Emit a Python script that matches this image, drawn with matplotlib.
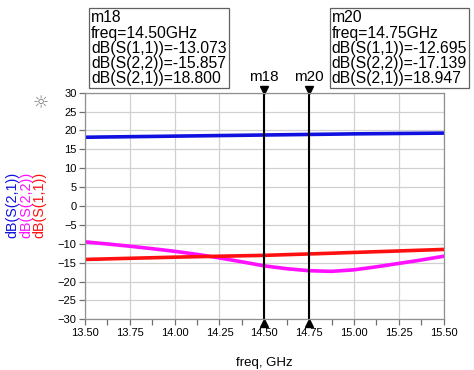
import numpy as np
import matplotlib
matplotlib.use('Agg')
import matplotlib.pyplot as plt

plt.rcParams['font.family'] = ['Liberation Sans', 'DejaVu Sans']

freq = [13.500, 13.625, 13.750, 13.875, 14.000, 14.125, 14.250, 14.375, 14.500,
        14.625, 14.750, 14.875, 15.000, 15.125, 15.250, 15.375, 15.500]
s21 = [18.20, 18.28, 18.35, 18.42, 18.50, 18.57, 18.65, 18.72, 18.800,
       18.87, 18.947, 19.02, 19.10, 19.15, 19.20, 19.25, 19.30]
s22 = [-9.50, -10.05, -10.65, -11.30, -12.00, -12.80, -13.75, -14.78, -15.857,
       -16.60, -17.139, -17.30, -16.90, -16.10, -15.20, -14.30, -13.30]
s11 = [-14.15, -14.00, -13.85, -13.70, -13.55, -13.42, -13.30, -13.18, -13.073,
       -12.88, -12.695, -12.50, -12.30, -12.10, -11.90, -11.70, -11.50]

markers = ['m18', 'm20']
marker_freq = [14.50, 14.75]
marker_text = [
    ['m18', 'freq=14.50GHz', 'dB(S(1,1))=-13.073', 'dB(S(2,2))=-15.857', 'dB(S(2,1))=18.800'],
    ['m20', 'freq=14.75GHz', 'dB(S(1,1))=-12.695', 'dB(S(2,2))=-17.139', 'dB(S(2,1))=18.947'],
]

blue = '#1010e0'
pink = '#ff10ff'
red = '#ff1010'

fig = plt.figure(figsize=(4.74, 3.70), dpi=100)
ax = fig.add_axes([0.1793, 0.137, 0.7567, 0.6125])

ax.plot(freq, s21, color=blue, lw=2.6)
ax.plot(freq, s22, color=pink, lw=2.6)
ax.plot(freq, s11, color=red, lw=2.6)

ax.set_xlim(13.5, 15.5)
ax.set_ylim(-30, 30)
ax.set_xticks(np.arange(13.5, 15.51, 0.25))
ax.set_xticklabels(['%.2f' % v for v in np.arange(13.5, 15.51, 0.25)])
ax.set_xticks(np.arange(13.625, 15.5, 0.25), minor=True)
ax.set_yticks(np.arange(-30, 31, 5))
ax.grid(True, color='#d0d0d0', lw=0.9)
ax.tick_params(axis='both', labelsize=8, color='#707070', length=4, width=0.9, pad=2)
ax.tick_params(axis='x', which='minor', color='#707070', length=4, width=0.9)
for s in ax.spines.values():
    s.set_color('#909090')
    s.set_linewidth(0.9)

# marker lines, triangles sit just outside the plot frame
for name, f in zip(markers, marker_freq):
    ax.axvline(f, color='black', lw=1.5)
    ax.plot([f], [30.8], marker='v', color='black', ms=5.5, clip_on=False)
    ax.plot([f], [-30.9], marker='^', color='black', ms=5.5, clip_on=False)
    ax.text(f, 32.2, name, ha='center', va='bottom', fontsize=11)

# marker readout boxes
for txt, x0 in zip(marker_text, [0.192, 0.700]):
    fig.text(x0, 0.972, '\n'.join(txt), ha='left', va='top', fontsize=11.3,
             linespacing=1.02,
             bbox=dict(boxstyle='square,pad=0.12', fc='white', ec='#606060', lw=0.9))

# stacked y labels
fig.text(0.027, 0.445, 'dB(S(2,1))', rotation=90, color=blue, fontsize=10.3, ha='center', va='center')
fig.text(0.055, 0.445, 'dB(S(2,2))', rotation=90, color=pink, fontsize=10.3, ha='center', va='center')
fig.text(0.083, 0.445, 'dB(S(1,1))', rotation=90, color=red, fontsize=10.3, ha='center', va='center')

fig.text(0.085, 0.722, '\u263c', color='#808080', fontsize=13, ha='center', va='center',
         family=['DejaVu Sans'])

ax.set_xlabel('freq, GHz', fontsize=9.5, labelpad=14)

fig.savefig('out.png', dpi=100)
